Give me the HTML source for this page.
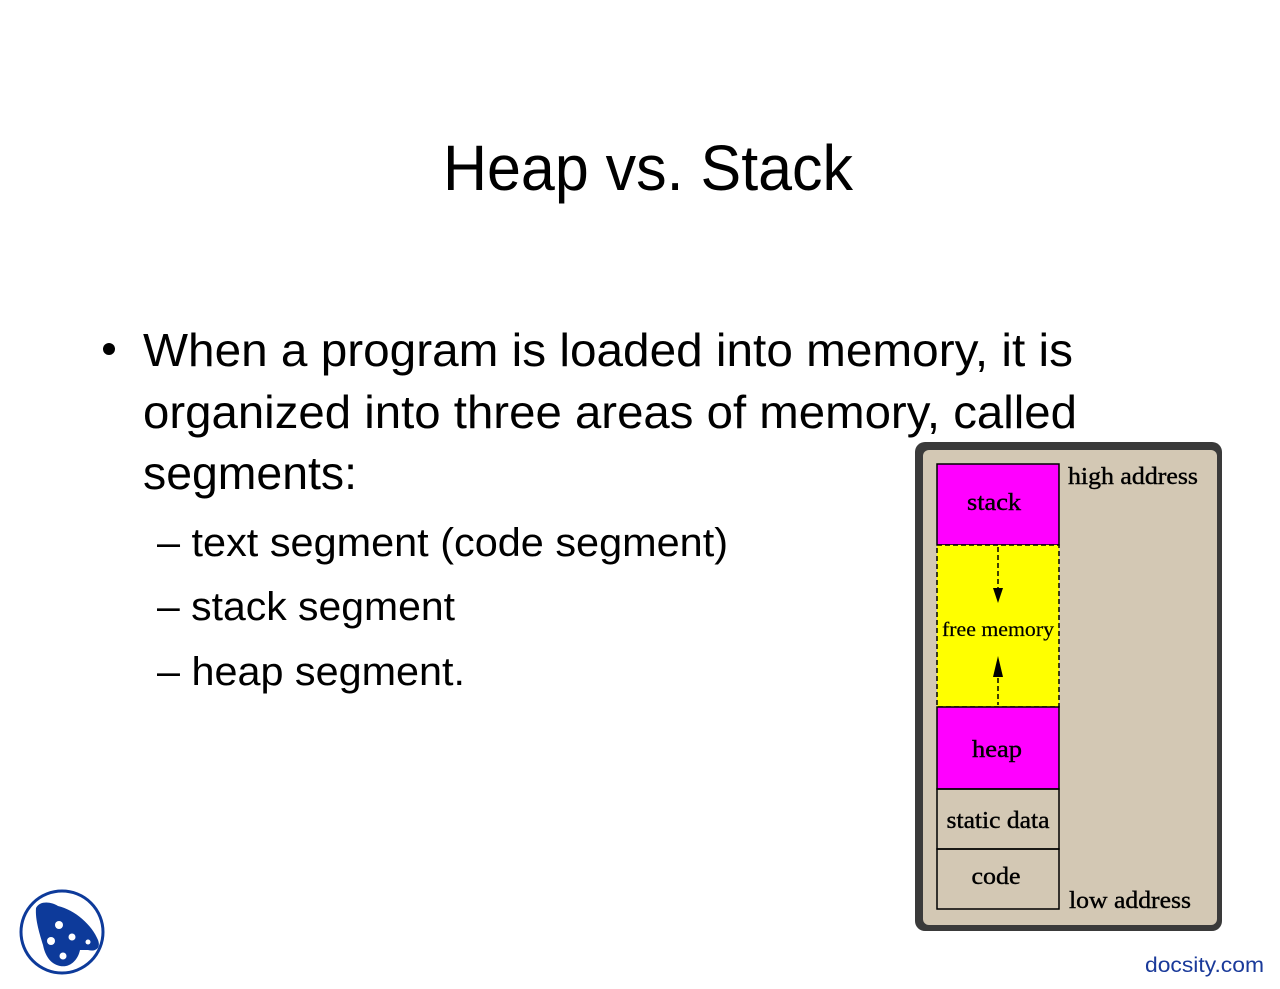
<!DOCTYPE html>
<html><head><meta charset="utf-8"><style>
html,body{margin:0;padding:0;background:#fff;}
svg{display:block}
</style></head><body>
<svg width="1280" height="989" viewBox="0 0 1280 989" xmlns="http://www.w3.org/2000/svg">
<rect width="1280" height="989" fill="#fff"/>
<g font-family="Liberation Sans, sans-serif" fill="#000">
<text x="443" y="190" font-size="64" textLength="410" lengthAdjust="spacingAndGlyphs">Heap vs. Stack</text>
<circle cx="109" cy="349" r="6"/>
<text x="143" y="366" font-size="46" textLength="930" lengthAdjust="spacingAndGlyphs">When a program is loaded into memory, it is</text>
<text x="143" y="428" font-size="46" textLength="934" lengthAdjust="spacingAndGlyphs">organized into three areas of memory, called</text>
<text x="143" y="489" font-size="46" textLength="214" lengthAdjust="spacingAndGlyphs">segments:</text>
<text x="157" y="556" font-size="40" textLength="571" lengthAdjust="spacingAndGlyphs">– text segment (code segment)</text>
<text x="157" y="620" font-size="40" textLength="298" lengthAdjust="spacingAndGlyphs">– stack segment</text>
<text x="157" y="685" font-size="40" textLength="308" lengthAdjust="spacingAndGlyphs">– heap segment.</text>
<text x="1145" y="972" font-size="21" fill="#1a3a9a" textLength="119" lengthAdjust="spacingAndGlyphs">docsity.com</text>
</g>
<!-- diagram -->
<rect x="915" y="442" width="307" height="489" rx="10" fill="#3a3a3a"/>
<rect x="923" y="450" width="294" height="475" rx="6" fill="#d3c8b4"/>
<rect x="937" y="464" width="122" height="81" fill="#ff00ff" stroke="#000" stroke-width="1.5"/>
<rect x="937" y="545" width="122" height="162" fill="#ffff00" stroke="#000" stroke-width="1.5" stroke-dasharray="5,3"/>
<rect x="937" y="707" width="122" height="82" fill="#ff00ff" stroke="#000" stroke-width="1.5"/>
<rect x="937" y="789" width="122" height="60" fill="none" stroke="#000" stroke-width="1.5"/>
<rect x="937" y="849" width="122" height="60" fill="none" stroke="#000" stroke-width="1.5"/>
<line x1="998" y1="547" x2="998" y2="590" stroke="#000" stroke-width="1.5" stroke-dasharray="5,3"/>
<polygon points="993,588 1003,588 998,603" fill="#000"/>
<line x1="998" y1="670" x2="998" y2="705" stroke="#000" stroke-width="1.5" stroke-dasharray="5,3"/>
<polygon points="993,677 1003,677 998,656" fill="#000"/>
<g font-family="Liberation Serif, serif" fill="#000" font-size="24" stroke="#000" stroke-width="0.4">
<text x="994" y="510" text-anchor="middle" textLength="54" lengthAdjust="spacingAndGlyphs">stack</text>
<text x="998" y="636" text-anchor="middle" font-size="20" stroke-width="0.2" textLength="112" lengthAdjust="spacingAndGlyphs">free memory</text>
<text x="997" y="757" text-anchor="middle" textLength="50" lengthAdjust="spacingAndGlyphs">heap</text>
<text x="998" y="828" text-anchor="middle" textLength="103" lengthAdjust="spacingAndGlyphs">static data</text>
<text x="996" y="884" text-anchor="middle" textLength="49" lengthAdjust="spacingAndGlyphs">code</text>
<text x="1068" y="484" textLength="130" lengthAdjust="spacingAndGlyphs">high address</text>
<text x="1069" y="908" textLength="122" lengthAdjust="spacingAndGlyphs">low address</text>
</g>
<!-- logo -->
<circle cx="62" cy="932" r="41" fill="#fff" stroke="#0d3a9a" stroke-width="3"/>
<path d="M36,908 C40,900 52,902 58,906 C75,910 92,925 98,940 C101,948 96,952 88,950 L80,950 C78,960 70,968 60,966 C50,964 45,955 43,945 C40,935 35,920 36,908 Z" fill="#0d3a9a"/>
<circle cx="59" cy="925" r="4" fill="#fff"/>
<circle cx="51" cy="941" r="4" fill="#fff"/>
<circle cx="72" cy="937" r="3.5" fill="#fff"/>
<circle cx="63" cy="956" r="3.5" fill="#fff"/>
<circle cx="88" cy="942" r="2.5" fill="#fff"/>
</svg>
</body></html>
